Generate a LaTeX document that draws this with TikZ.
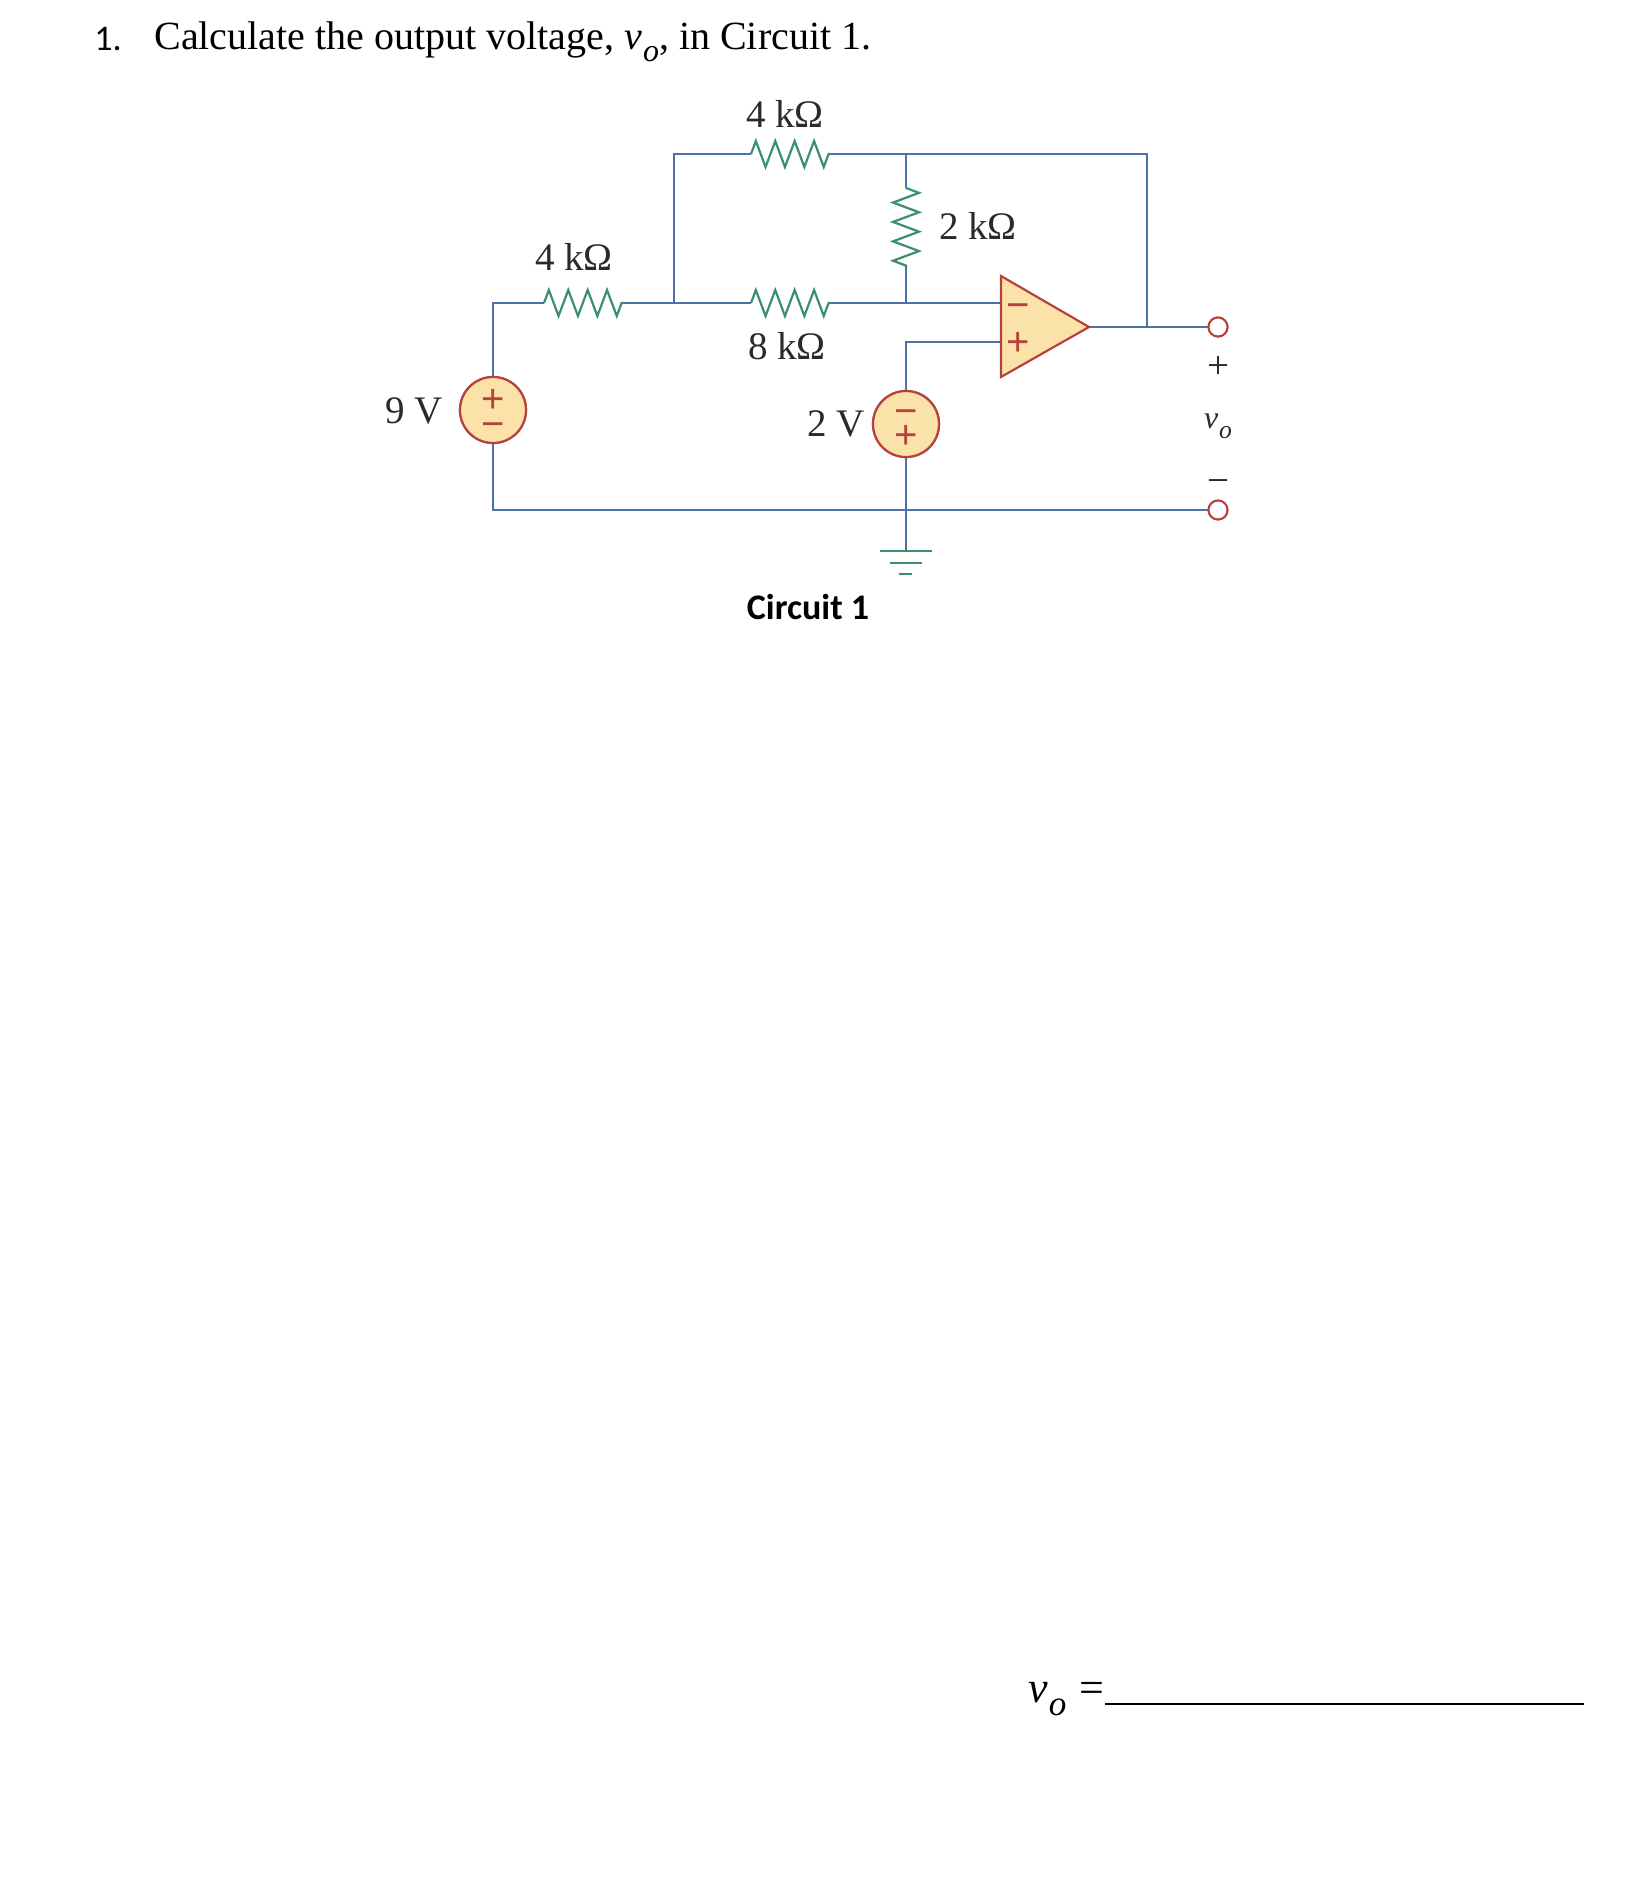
\documentclass[tikz,border=0pt]{standalone}
\usepackage{fontspec}
\setmainfont{Liberation Serif}
\newfontfamily\calibrifont{Carlito}
\newfontfamily\signfont{Liberation Sans}
\usetikzlibrary{decorations.pathmorphing}
\definecolor{wireblue}{HTML}{4A74A6}
\definecolor{resgreen}{HTML}{3C8F6C}
\definecolor{partfill}{HTML}{FBE2A8}
\definecolor{partred}{HTML}{B5423C}
\definecolor{labelgray}{HTML}{2A2A2A}
\newcommand{\vout}{\textit{v}\kern.03em\raisebox{-.3em}{\scalebox{.8}{\textit{o}}}}
\tikzset{
  wire/.style={draw=wireblue,line width=1.1pt},
  resistor/.style={draw=resgreen,line width=1.1pt,decorate,
    decoration={zigzag,amplitude=6.5pt,segment length=9.7pt}},
  gndbar/.style={draw=resgreen,line width=1.1pt},
  source/.style={circle,draw=partred,fill=partfill,line width=1.1pt,minimum size=33pt,inner sep=0pt},
  opamp/.style={draw=partred,fill=partfill,line width=1.1pt,line join=miter},
  terminal/.style={circle,draw=partred,fill=white,line width=1pt,minimum size=9.5pt,inner sep=0pt},
  sign/.style={text=partred,font=\signfont\fontsize{20}{20}\selectfont,inner sep=0pt},
  value/.style={text=labelgray,font=\fontsize{19.5}{20}\selectfont,inner sep=0pt},
}
\begin{document}
\begin{tikzpicture}[x=.5pt,y=-.5pt]
  \useasboundingbox (0,0) rectangle (1629,1886);
  % wire corners
  \coordinate (cornerbl) at (493,510);
  \coordinate (cornerl) at (493,303);
  \coordinate (ra) at (544,303);
  \coordinate (rb) at (624,303);
  \coordinate (nodea) at (674,303);
  \coordinate (cornert) at (674,154);
  \coordinate (rc) at (751,154);
  \coordinate (rd) at (830,154);
  \coordinate (nodeb) at (906,154);
  \coordinate (re) at (906,188);
  \coordinate (rf) at (906,268);
  \coordinate (rg) at (751,303);
  \coordinate (rh) at (830,303);
  \coordinate (nodec) at (906,303);
  \coordinate (cornerp) at (906,342);
  \coordinate (gndb) at (906,551);
  \coordinate (fbt) at (1147,154);
  \coordinate (fbb) at (1147,327);
  % op amp corners
  \coordinate (opa) at (1001,276);
  \coordinate (opb) at (1001,377);
  \coordinate (opc) at (1089,327);
  \coordinate (opm) at (1001,303);
  \coordinate (opp) at (1001,342);
  % parts
  \node[source] (vsa) at (493,410) {};
  \node[source] (vsb) at (906,424) {};
  \node[terminal] (terma) at (1218,327) {};
  \node[terminal] (termb) at (1218,510) {};
  % wires
  \draw[wire] (vsa) -- (cornerl) -- (ra);
  \draw[wire] (rb) -- (nodea) -- (rg);
  \draw[wire] (nodea) -- (cornert) -- (rc);
  \draw[wire] (rd) -- (fbt) -- (fbb);
  \draw[wire] (nodeb) -- (re);
  \draw[wire] (rf) -- (nodec);
  \draw[wire] (rh) -- (opm);
  \draw[wire] (opp) -- (cornerp) -- (vsb);
  \draw[wire] (vsb) -- (gndb);
  \draw[wire] (vsa) -- (cornerbl) -- (termb);
  \draw[wire] (opc) -- (terma);
  % resistors
  \draw[resistor] (ra) -- (rb);
  \draw[resistor] (rc) -- (rd);
  \draw[resistor] (rg) -- (rh);
  \draw[resistor] (re) -- (rf);
  % redraw parts on top
  \node[source] at (vsa) {};
  \node[source] at (vsb) {};
  \node[terminal] at (terma) {};
  \node[terminal] at (termb) {};
  \draw[opamp] (opa) -- (opb) -- (opc) -- cycle;
  % ground
  \coordinate (gbl) at (880,551); \coordinate (gbr) at (932,551);
  \coordinate (gcl) at (890,563); \coordinate (gcr) at (922,563);
  \coordinate (gdl) at (899,574); \coordinate (gdr) at (912,574);
  \draw[gndbar] (gbl) -- (gbr);
  \draw[gndbar] (gcl) -- (gcr);
  \draw[gndbar] (gdl) -- (gdr);
  % signs
  \node[sign] (vsaplus) at (493,401) {+};
  \node[sign] (vsaminus) at (493,430) {−};
  \node[sign] (vsbminus) at (906,417) {−};
  \node[sign] (vsbplus) at (906,437) {+};
  \node[sign] (opminus) at (1018,311) {−};
  \node[sign] (opplus) at (1018,344) {+};
  % labels
  \node[value] (ltop) at (785,114) {4 kΩ};
  \node[value] (lleft) at (574,257) {4 kΩ};
  \node[value] (lmid) at (787,346) {8 kΩ};
  \node[value] (lvert) at (978,226) {2 kΩ};
  \node[value] (lnine) at (414,411) {9 V};
  \node[value] (ltwo) at (836,424) {2 V};
  \node[value] (oplus) at (1218,367) {+};
  \node[value,font=\fontsize{16}{20}\selectfont] (ovo) at (1218,426) {\vout};
  \node[value] (ominus) at (1218,487) {−};
  \node[inner sep=0pt,font=\calibrifont\bfseries\fontsize{18}{20}\selectfont] (caption) at (808,607) {Circuit 1};
  % question text
  \node[anchor=base west,inner sep=0pt,font=\calibrifont\fontsize{18}{20}\selectfont] (qnum) at (94,50) {1.};
  \node[anchor=base west,inner sep=0pt,font=\fontsize{20}{20}\selectfont] (qtext) at (154,49) {Calculate the output voltage, \vout, in Circuit 1.};
  \node[anchor=base east,inner sep=0pt,font=\fontsize{22}{23}\selectfont] (answer) at (1105,1702) {\vout\hspace{.3em}=};
  \coordinate (linea) at (1105,1704); \coordinate (lineb) at (1584,1704);
  \draw[line width=.6pt] (linea) -- (lineb);
\end{tikzpicture}
\end{document}
